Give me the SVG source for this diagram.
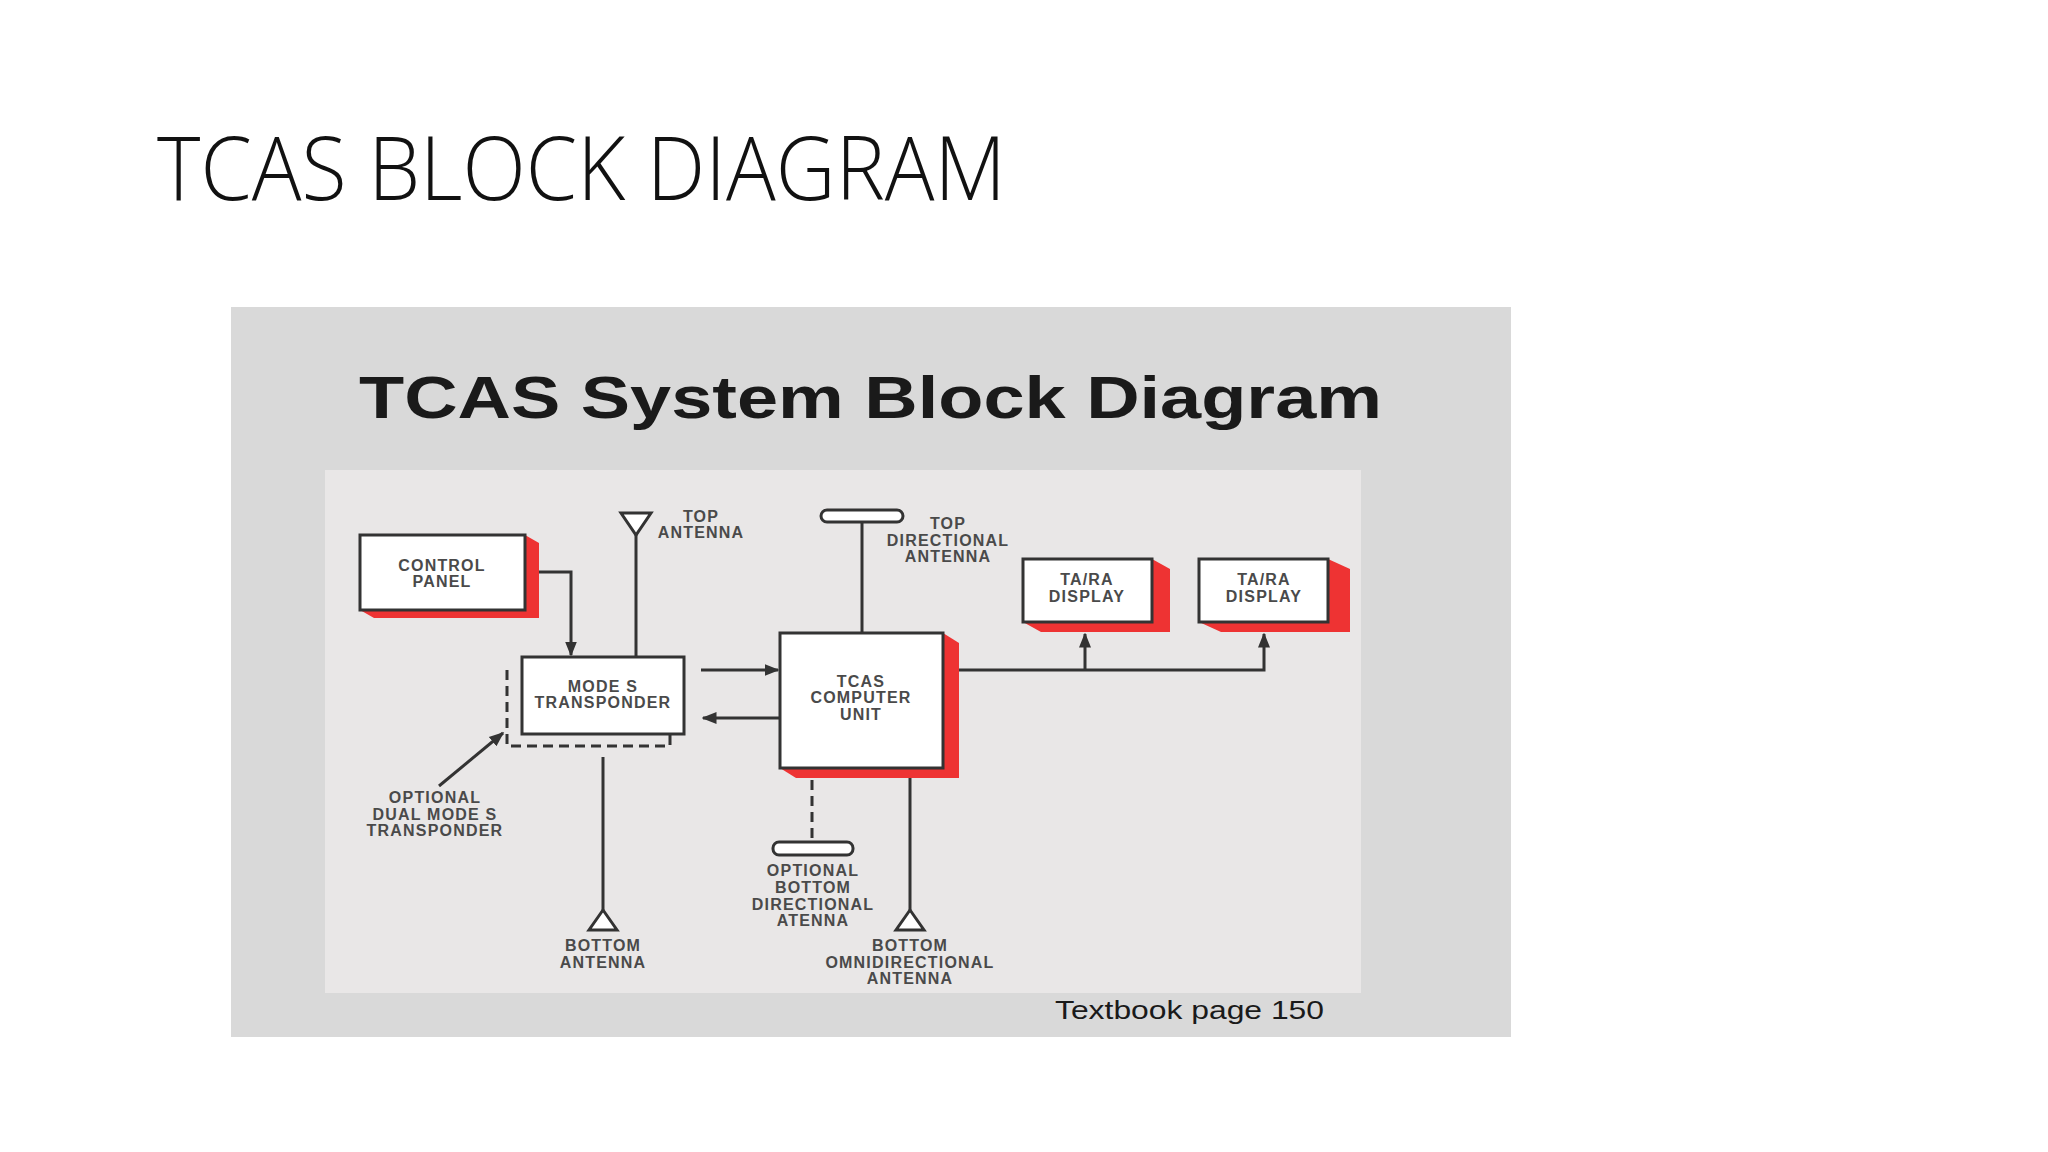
<svg xmlns="http://www.w3.org/2000/svg" width="2048" height="1152" viewBox="0 0 2048 1152">
<defs>
<style>
.t{font-family:"Liberation Sans",Arial,sans-serif;font-weight:bold;font-size:16px;letter-spacing:1.2px;fill:#4a4a4a;text-anchor:middle}
.box{fill:#fff;stroke:#333;stroke-width:3}
.sh{fill:#ee3333}
.ln{stroke:#333;stroke-width:3;fill:none}
.ds{stroke:#333;stroke-width:3;fill:none;stroke-dasharray:10 6}
.ant{fill:#fff;stroke:#333;stroke-width:3}
</style>
<marker id="ah" viewBox="0 0 10 10" refX="9" refY="5" markerWidth="5" markerHeight="5" orient="auto"><path d="M0,1 L10,5 L0,9 Z" fill="#333"/></marker>
</defs>
<rect width="2048" height="1152" fill="#fff"/>
<text x="157" y="200" font-family="'Open Sans',sans-serif" font-weight="300" font-size="88" fill="#111" textLength="849" lengthAdjust="spacingAndGlyphs">TCAS BLOCK DIAGRAM</text>
<rect x="231" y="307" width="1280" height="730" fill="#d9d9d9"/>
<rect x="325" y="470" width="1036" height="523" fill="#e9e7e7"/>
<text x="359" y="418" font-family="'Liberation Sans',Arial,sans-serif" font-weight="bold" font-size="60" fill="#1a1a1a" textLength="1023" lengthAdjust="spacingAndGlyphs">TCAS System Block Diagram</text>
<text x="1055" y="1019" font-family="'Liberation Sans',Arial,sans-serif" font-size="25" fill="#1a1a1a" textLength="269" lengthAdjust="spacingAndGlyphs">Textbook page 150</text>

<g id="connectors">
<polyline class="ln" points="525,572 571,572 571,655" marker-end="url(#ah)"/>
<line class="ln" x1="636" y1="535" x2="636" y2="657"/>
<line class="ln" x1="862" y1="522" x2="862" y2="633"/>
<line class="ln" x1="701" y1="670" x2="778" y2="670" marker-end="url(#ah)"/>
<line class="ln" x1="780" y1="718" x2="703" y2="718" marker-end="url(#ah)"/>
<line class="ln" x1="603" y1="757" x2="603" y2="910"/>
<line class="ds" x1="812" y1="780" x2="812" y2="842"/>
<line class="ln" x1="910" y1="778" x2="910" y2="910"/>
<polyline class="ln" points="959,670 1264,670 1264,634" marker-end="url(#ah)"/>
<line class="ln" x1="1085" y1="670" x2="1085" y2="634" marker-end="url(#ah)"/>
<line class="ln" x1="439" y1="786" x2="503" y2="733" stroke-width="2" marker-end="url(#ah)"/>
<polyline class="ds" points="507,670 507,746 670,746 670,734"/>
</g>

<g id="control-panel">
<polygon class="sh" points="525,535 539,543 539,618 374,618 360,610"/>
<rect class="box" x="360" y="535" width="165" height="75"/>
<text class="t" x="442" y="571">CONTROL</text>
<text class="t" x="442" y="587">PANEL</text>
</g>

<g id="mode-s-transponder">
<rect class="box" x="522" y="657" width="162" height="77"/>
<text class="t" x="603" y="692">MODE S</text>
<text class="t" x="603" y="708">TRANSPONDER</text>
</g>

<g id="optional-dual">
<text class="t" x="435" y="803">OPTIONAL</text>
<text class="t" x="435" y="820">DUAL MODE S</text>
<text class="t" x="435" y="836">TRANSPONDER</text>
</g>

<g id="tcas-computer">
<polygon class="sh" points="943,633 959,643 959,778 796,778 780,768"/>
<rect class="box" x="780" y="633" width="163" height="135"/>
<text class="t" x="861" y="687">TCAS</text>
<text class="t" x="861" y="703">COMPUTER</text>
<text class="t" x="861" y="720">UNIT</text>
</g>

<g id="top-antenna">
<polygon class="ant" points="621,513 651,513 636,535"/>
<text class="t" x="701" y="522">TOP</text>
<text class="t" x="701" y="538">ANTENNA</text>
</g>

<g id="top-directional-antenna">
<rect class="ant" x="821" y="510" width="82" height="12" rx="6"/>
<text class="t" x="948" y="529">TOP</text>
<text class="t" x="948" y="546">DIRECTIONAL</text>
<text class="t" x="948" y="562">ANTENNA</text>
</g>

<g id="bottom-antenna">
<polygon class="ant" points="603,910 589,930 617,930"/>
<text class="t" x="603" y="951">BOTTOM</text>
<text class="t" x="603" y="968">ANTENNA</text>
</g>

<g id="bottom-directional-antenna">
<rect class="ant" x="773" y="842" width="80" height="13" rx="6"/>
<text class="t" x="813" y="876">OPTIONAL</text>
<text class="t" x="813" y="893">BOTTOM</text>
<text class="t" x="813" y="910">DIRECTIONAL</text>
<text class="t" x="813" y="926">ATENNA</text>
</g>

<g id="bottom-omni-antenna">
<polygon class="ant" points="910,910 896,930 924,930"/>
<text class="t" x="910" y="951">BOTTOM</text>
<text class="t" x="910" y="968">OMNIDIRECTIONAL</text>
<text class="t" x="910" y="984">ANTENNA</text>
</g>

<g id="display-1">
<polygon class="sh" points="1152,559 1170,569 1170,632 1041,632 1023,622"/>
<rect class="box" x="1023" y="559" width="129" height="63"/>
<text class="t" x="1087" y="585">TA/RA</text>
<text class="t" x="1087" y="602">DISPLAY</text>
</g>

<g id="display-2">
<polygon class="sh" points="1328,559 1350,569 1350,632 1221,632 1199,622"/>
<rect class="box" x="1199" y="559" width="129" height="63"/>
<text class="t" x="1264" y="585">TA/RA</text>
<text class="t" x="1264" y="602">DISPLAY</text>
</g>
</svg>
